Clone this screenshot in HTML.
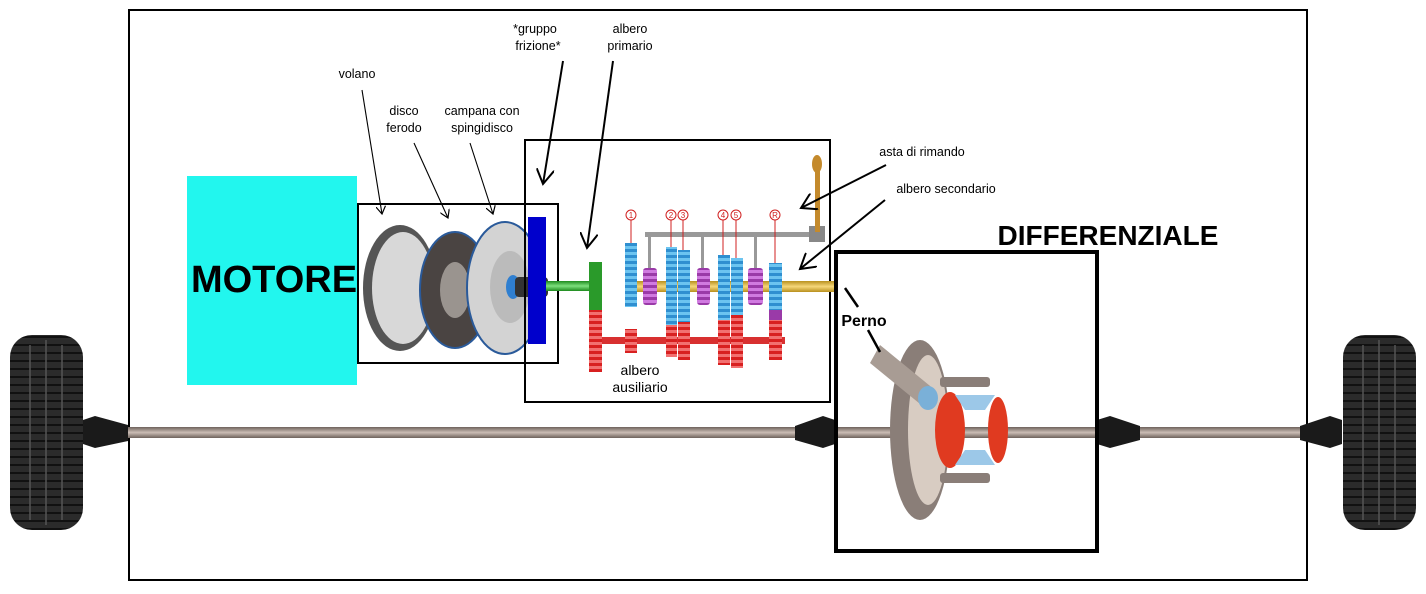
<!DOCTYPE html>
<html><head><meta charset="utf-8"><style>
html,body{margin:0;padding:0;background:#fff;width:1426px;height:594px;overflow:hidden}
svg{display:block}
text{font-family:"Liberation Sans","DejaVu Sans",sans-serif;font-size:12.5px;fill:#000}
</style></head><body>
<svg width="1426" height="594" viewBox="0 0 1426 594" xmlns="http://www.w3.org/2000/svg">
<defs>
<marker id="a" markerWidth="10" markerHeight="10" refX="8" refY="5" orient="auto" markerUnits="userSpaceOnUse"><path d="M0,0 L8,5 L0,10" fill="none" stroke="#000" stroke-width="1.2"/></marker>
<marker id="b" markerWidth="18" markerHeight="18" refX="15" refY="9" orient="auto" markerUnits="userSpaceOnUse"><path d="M0,0 L15,9 L0,18" fill="none" stroke="#000" stroke-width="2"/></marker>
<linearGradient id="ax" x1="0" y1="0" x2="0" y2="1"><stop offset="0" stop-color="#6e625c"/><stop offset=".5" stop-color="#cbbdb5"/><stop offset="1" stop-color="#6e625c"/></linearGradient>
<linearGradient id="ye" x1="0" y1="0" x2="0" y2="1"><stop offset="0" stop-color="#b8901e"/><stop offset=".5" stop-color="#f6d77a"/><stop offset="1" stop-color="#b8901e"/></linearGradient>
<linearGradient id="gr" x1="0" y1="0" x2="0" y2="1"><stop offset="0" stop-color="#1d8a1d"/><stop offset=".5" stop-color="#7de07d"/><stop offset="1" stop-color="#1d8a1d"/></linearGradient>
<pattern id="bl" width="12" height="6" patternUnits="userSpaceOnUse"><rect width="12" height="6" fill="#2f8fd0"/><rect width="12" height="3" fill="#6cc4f0"/></pattern>
<pattern id="rd" width="12" height="6" patternUnits="userSpaceOnUse"><rect width="12" height="6" fill="#d82020"/><rect width="12" height="3" fill="#f27070"/></pattern>
<pattern id="pu" width="12" height="6" patternUnits="userSpaceOnUse"><rect width="12" height="6" fill="#9a3aa8"/><rect width="12" height="3" fill="#d07ae0"/></pattern>
<pattern id="tr" width="6" height="8" patternUnits="userSpaceOnUse"><rect width="6" height="8" fill="#2b2b2b"/><rect width="6" height="2" fill="#111"/></pattern>
</defs>

<!-- outer frame -->
<rect x="129" y="10" width="1178" height="570" fill="none" stroke="#000" stroke-width="2"/>

<!-- axle -->
<rect x="120" y="427" width="1190" height="11" fill="url(#ax)"/>
<!-- boots -->
<g fill="#1a1a1a">
<path d="M83,420 L95,416 L128,425 L128,441 L95,448 L83,444 Z"/>
<path d="M835,420 L823,416 L795,426 L795,440 L823,448 L835,444 Z"/>
<path d="M1097,420 L1110,416 L1140,426 L1140,440 L1110,448 L1097,444 Z"/>
<path d="M1342,420 L1330,416 L1300,426 L1300,440 L1330,448 L1342,444 Z"/>
</g>
<!-- wheels -->
<rect x="10" y="335" width="73" height="195" rx="22" fill="url(#tr)"/>
<rect x="1343" y="335" width="73" height="195" rx="22" fill="url(#tr)"/>
<g stroke="#555" stroke-width="1.5"><line x1="30" y1="345" x2="30" y2="520"/><line x1="46" y1="340" x2="46" y2="525"/><line x1="62" y1="345" x2="62" y2="520"/>
<line x1="1363" y1="345" x2="1363" y2="520"/><line x1="1379" y1="340" x2="1379" y2="525"/><line x1="1395" y1="345" x2="1395" y2="520"/></g>

<!-- motore -->
<rect x="187" y="176" width="170" height="209" fill="#22f6ee"/>
<text x="274" y="292" text-anchor="middle" style="font-size:38px;font-weight:bold">MOTORE</text>

<!-- clutch box -->
<rect x="358" y="204" width="200" height="159" fill="#fff" stroke="#000" stroke-width="2"/>
<ellipse cx="400" cy="288" rx="37" ry="63" fill="#555"/>
<ellipse cx="403" cy="288" rx="31" ry="56" fill="#d8d8d8"/>
<ellipse cx="455" cy="290" rx="35" ry="58" fill="#4a4442" stroke="#2a5a9a" stroke-width="2"/>
<ellipse cx="455" cy="290" rx="15" ry="28" fill="#9a948f"/>
<ellipse cx="505" cy="288" rx="38" ry="66" fill="#d3d3d3" stroke="#2a5a9a" stroke-width="2"/>
<ellipse cx="510" cy="287" rx="20" ry="36" fill="#bbb"/>
<ellipse cx="513" cy="287" rx="7" ry="12" fill="#2f7fd0"/>
<rect x="515" y="277" width="33" height="20" rx="4" fill="#333"/>
<line x1="525" y1="178" x2="525" y2="388" stroke="#1fb8b4" stroke-width="2"/>
<rect x="528" y="217" width="18" height="127" fill="#0000cc"/>

<!-- gearbox box -->
<rect x="525" y="140" width="305" height="262" fill="none" stroke="#000" stroke-width="2"/>
<rect x="546" y="281" width="50" height="10" fill="url(#gr)"/>
<rect x="637" y="281" width="198" height="11" fill="url(#ye)"/>
<rect x="600" y="337" width="185" height="7" fill="#d83030"/>
<!-- selector -->
<rect x="645" y="232" width="175" height="5" fill="#999"/>
<rect x="809" y="226" width="16" height="16" fill="#888"/>
<rect x="815" y="170" width="5" height="62" fill="#c48a2c"/>
<ellipse cx="817" cy="164" rx="5" ry="9" fill="#c48a2c"/>
<rect x="648" y="237" width="3" height="32" fill="#999"/><rect x="701" y="237" width="3" height="32" fill="#999"/><rect x="754" y="237" width="3" height="32" fill="#999"/>
<!-- gears -->
<rect x="589" y="262" width="13" height="48" fill="#2a9a2a"/>
<rect x="589" y="310" width="13" height="62" fill="url(#rd)"/>
<rect x="625" y="243" width="12" height="64" fill="url(#bl)"/><rect x="625" y="329" width="12" height="24" fill="url(#rd)"/>
<rect x="666" y="247" width="11" height="78" fill="url(#bl)"/><rect x="666" y="325" width="11" height="32" fill="url(#rd)"/>
<rect x="678" y="250" width="12" height="72" fill="url(#bl)"/><rect x="678" y="322" width="12" height="38" fill="url(#rd)"/>
<rect x="718" y="255" width="12" height="65" fill="url(#bl)"/><rect x="718" y="320" width="12" height="45" fill="url(#rd)"/>
<rect x="731" y="258" width="12" height="57" fill="url(#bl)"/><rect x="731" y="315" width="12" height="53" fill="url(#rd)"/>
<rect x="769" y="263" width="13" height="47" fill="url(#bl)"/><rect x="769" y="310" width="13" height="10" fill="#9a3aa8"/><rect x="769" y="320" width="13" height="40" fill="url(#rd)"/>
<rect x="643" y="268" width="14" height="37" rx="3" fill="url(#pu)"/>
<rect x="697" y="268" width="13" height="37" rx="3" fill="url(#pu)"/>
<rect x="748" y="268" width="15" height="37" rx="3" fill="url(#pu)"/>
<g stroke="#d02020" stroke-width="1"><line x1="631" y1="220" x2="631" y2="243"/><line x1="671" y1="220" x2="671" y2="247"/><line x1="683" y1="220" x2="683" y2="250"/><line x1="723" y1="220" x2="723" y2="255"/><line x1="736" y1="220" x2="736" y2="258"/><line x1="775" y1="220" x2="775" y2="263"/></g>
<g fill="#fff" stroke="#d02020" stroke-width="1"><circle cx="631" cy="215" r="5"/><circle cx="671" cy="215" r="5"/><circle cx="683" cy="215" r="5"/><circle cx="723" cy="215" r="5"/><circle cx="736" cy="215" r="5"/><circle cx="775" cy="215" r="5"/></g>
<g style="font-size:8px" text-anchor="middle"><text x="631" y="218" style="font-size:8px;fill:#d02020">1</text><text x="671" y="218" style="font-size:8px;fill:#d02020">2</text><text x="683" y="218" style="font-size:8px;fill:#d02020">3</text><text x="723" y="218" style="font-size:8px;fill:#d02020">4</text><text x="736" y="218" style="font-size:8px;fill:#d02020">5</text><text x="775" y="218" style="font-size:8px;fill:#d02020">R</text></g>

<!-- differential box -->
<rect x="836" y="252" width="261" height="299" fill="none" stroke="#000" stroke-width="4"/>
<ellipse cx="920" cy="430" rx="30" ry="90" fill="#8a7e78"/>
<ellipse cx="928" cy="430" rx="20" ry="75" fill="#d8ccc2"/>
<rect x="940" y="377" width="50" height="10" rx="3" fill="#8a7e78"/>
<rect x="940" y="473" width="50" height="10" rx="3" fill="#8a7e78"/>
<ellipse cx="950" cy="430" rx="15" ry="38" fill="#e03a20"/>
<ellipse cx="998" cy="430" rx="10" ry="33" fill="#e03a20"/>
<path d="M955,395 L995,395 L985,410 L965,410 Z" fill="#9cc8e8"/>
<path d="M955,465 L995,465 L985,450 L965,450 Z" fill="#9cc8e8"/>
<path d="M880,345 L935,390 L925,408 L870,363 Z" fill="#a89c94"/>
<ellipse cx="928" cy="398" rx="10" ry="12" fill="#7ab0d8"/>

<!-- arrows -->
<g stroke="#000" stroke-width="1.1" fill="none" marker-end="url(#a)">
<line x1="362" y1="90" x2="382" y2="214"/>
<line x1="414" y1="143" x2="448" y2="218"/>
<line x1="470" y1="143" x2="493" y2="214"/>
</g>
<g stroke="#000" stroke-width="2" fill="none" marker-end="url(#b)">
<line x1="563" y1="61" x2="543" y2="184"/>
<line x1="613" y1="61" x2="587" y2="248"/>
<line x1="886" y1="165" x2="801" y2="208"/>
<line x1="885" y1="200" x2="800" y2="269"/>
</g>
<line x1="845" y1="288" x2="858" y2="307" stroke="#000" stroke-width="2.5"/>
<line x1="868" y1="330" x2="880" y2="352" stroke="#000" stroke-width="2.5"/>

<!-- labels -->
<g text-anchor="middle">
<text x="357" y="78">volano</text>
<text x="404" y="115">disco</text><text x="404" y="132">ferodo</text>
<text x="482" y="115">campana con</text><text x="482" y="132">spingidisco</text>
<text x="535" y="33">*gruppo</text><text x="538" y="50">frizione*</text>
<text x="630" y="33">albero</text><text x="630" y="50">primario</text>
<text x="922" y="156">asta di rimando</text>
<text x="946" y="193">albero secondario</text>
<text x="640" y="375" style="font-size:14px">albero</text><text x="640" y="392" style="font-size:14px">ausiliario</text>
<text x="864" y="326" style="font-size:16px;font-weight:bold">Perno</text>
<text x="1108" y="245" style="font-size:28px;font-weight:bold">DIFFERENZIALE</text>
</g>
</svg>
</body></html>
